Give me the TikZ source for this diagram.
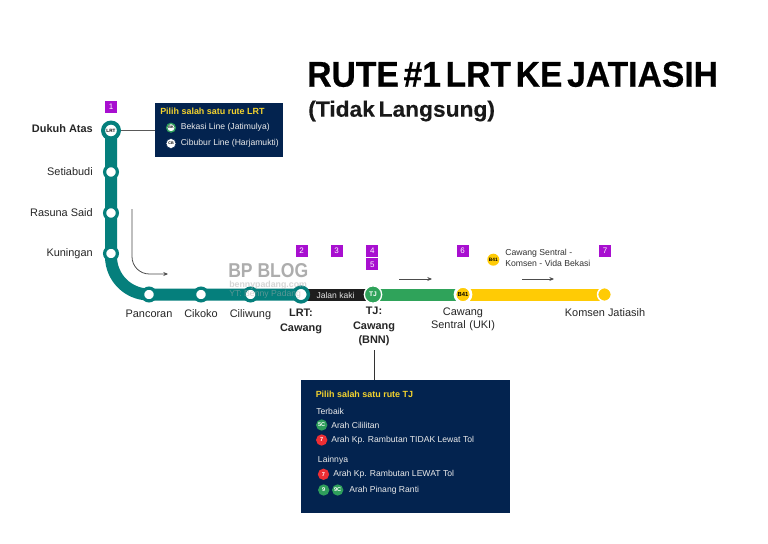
\documentclass[tikz,border=0pt]{standalone}
\usepackage{fontspec}
\setmainfont{Liberation Sans}
\newfontface\heavyf{Liberation Sans Bold}[FakeBold=0.5,WordSpace=0.5]
\newfontface\heavyg{Liberation Sans Bold}[FakeBold=0.3,WordSpace=0.6]
\usetikzlibrary{arrows.meta}
\definecolor{teal1}{HTML}{057F7C}
\definecolor{navy1}{HTML}{03234F}
\definecolor{green1}{HTML}{2FA35A}
\definecolor{yellow1}{HTML}{FFCB05}
\definecolor{purple1}{HTML}{A80FD0}
\definecolor{red1}{HTML}{EE2E34}
\definecolor{gold1}{HTML}{F2D22E}
\definecolor{green2}{HTML}{2E9E5B}
\definecolor{dark1}{HTML}{1E1E1E}
\tikzset{
  x=0.75pt,y=-0.75pt,
  lbl/.style={font=\fontsize{8.2}{10}\selectfont,text=black!85,align=center,inner sep=0pt},
  lblb/.style={lbl,font=\fontsize{8.2}{10}\selectfont\bfseries},
  tag/.style={fill=purple1,text=white,minimum size=9pt,inner sep=0pt,font=\fontsize{6}{7}\selectfont},
  stn/.style={circle,fill=white,draw=teal1,line width=2.4pt,minimum size=9.6pt,inner sep=0pt},
  wht/.style={font=\fontsize{6.45}{8}\selectfont,text=white!92!black,anchor=west,inner sep=0pt},
  gold/.style={font=\fontsize{6.7}{8}\selectfont\bfseries,text=gold1,anchor=west,inner sep=0pt},
  bdg/.style={circle,fill=#1,text=white,minimum size=8.5pt,inner sep=0pt,font=\fontsize{4.2}{5}\selectfont\bfseries},
  small/.style={font=\fontsize{6.5}{8.8}\selectfont,text=black!80,anchor=west,align=left,inner sep=0pt},
  thin/.style={draw=black!70,line width=0.6pt},
  tip/.style={-{Stealth[length=3.5pt,width=3pt]}},
  mark1/.style={font=\fontsize{#1}{#1}\selectfont,text=black!32,inner sep=0pt}
}
\begin{document}
\begin{tikzpicture}
\useasboundingbox (0,0) rectangle (768,543);
\fill[white] (0,0) rectangle (768,543);
% title
\node[anchor=base west,inner sep=0pt,font=\heavyf,text=black] (title) at (307,86.7) {\resizebox{308pt}{18.8pt}{RUTE \#1 LRT KE JATIASIH}};
\node[anchor=base west,inner sep=0pt,font=\heavyg,text=black!90] (subtitle) at (308,116.7) {\resizebox{140pt}{12pt}{(Tidak Langsung)}};
% anchors
\coordinate (a1) at (111,130.5);
\coordinate (a2) at (111,172);
\coordinate (a3) at (111,213);
\coordinate (a4) at (111,253.5);
\coordinate (b1) at (149,294.5);
\coordinate (b2) at (201,294.5);
\coordinate (b3) at (250.5,294.5);
\coordinate (b4) at (301,294.5);
\coordinate (b5) at (373,294.5);
\coordinate (b6) at (463,294.5);
\coordinate (b7) at (604.5,294.5);
% lines
\draw[teal1,line width=9pt,rounded corners=28.5pt] (a1) |- (b4);
\draw[dark1,line width=9pt] (b4) -- (b5);
\draw[green1,line width=9pt] (b5) -- (b6);
\draw[yellow1,line width=9pt] (b6) -- (b7);
% connectors to boxes
\node[fill=navy1,minimum width=95.5pt,minimum height=41pt,inner sep=0pt,anchor=north west] (lrtbox) at (155,102.5) {};
\node[fill=navy1,minimum width=156.5pt,minimum height=99.3pt,inner sep=0pt,anchor=north west] (tjbox) at (301,380) {};
\draw[black!65,line width=1.2pt] (a1) -- (lrtbox.west |- a1);
\draw[black!80,line width=0.7pt] (374,350) coordinate (tjc) -- (tjc |- tjbox.north);
% stations
\node[stn,minimum size=11.9pt,line width=3pt,font=\fontsize{3.5}{4}\selectfont\bfseries,text=black] (s1) at (a1) {LRT};
\node[stn] (s2) at (a2) {};
\node[stn] (s3) at (a3) {};
\node[stn] (s4) at (a4) {};
\node[stn] (s5) at (b1) {};
\node[stn] (s6) at (b2) {};
\node[stn] (s7) at (b3) {};
\node[stn,minimum size=11pt,line width=2.6pt] (s8) at (b4) {};
\node[circle,fill=green1,draw=white,line width=1pt,minimum size=13pt,inner sep=0pt,text=white,font=\fontsize{5}{6}\selectfont\bfseries] (s9) at (b5) {TJ};
\node[circle,fill=yellow1,draw=white,line width=2pt,minimum size=12pt,inner sep=0pt,text=black,font=\fontsize{4.4}{5}\selectfont\bfseries] (s10) at (b6) {B41};
\node[circle,fill=yellow1,draw=white,line width=1.2pt,minimum size=10.4pt,inner sep=0pt] (s11) at (b7) {};
% station labels
\node[lblb,anchor=east] (l1) at (93,129) {Dukuh Atas};
\node[lbl,anchor=east] (l2) at (93,172) {Setiabudi};
\node[lbl,anchor=east] (l3) at (93,213) {Rasuna Said};
\node[lbl,anchor=east] (l4) at (93,254) {Kuningan};
\node[lbl] (l5) at (149,314) {Pancoran};
\node[lbl] (l6) at (201,314) {Cikoko};
\node[lbl] (l7) at (250.5,314.5) {Ciliwung};
\node[lblb,text width=50pt,font=\fontsize{8.2}{11}\selectfont\bfseries,anchor=north] (l8) at (301,309) {LRT:\\Cawang};
\node[lblb,text width=50pt,font=\fontsize{8.2}{10.9}\selectfont\bfseries,anchor=north] (l9) at (374,307) {TJ:\\Cawang\\(BNN)};
\node[lbl,text width=60pt,font=\fontsize{8.2}{10}\selectfont,anchor=north] (l10) at (463,307.5) {Cawang\\Sentral (UKI)};
\node[lbl] (l11) at (605,313) {Komsen Jatiasih};
% walking
\node[font=\fontsize{6.4}{7}\selectfont,text=white!90!black,inner sep=0pt] (jk) at (335.5,295) {Jalan kaki};
% tags
\node[tag] (t1) at (111,106.7) {1};
\node[tag] (t2) at (301.5,250.7) {2};
\node[tag] (t3) at (336.7,250.7) {3};
\node[tag] (t4) at (372.3,250.5) {4};
\node[tag] (t5) at (372.3,264.3) {5};
\node[tag] (t6) at (462.7,250.7) {6};
\node[tag] (t7) at (605,250.5) {7};
% route notes
\node[circle,fill=yellow1,minimum size=9pt,inner sep=0pt,font=\fontsize{3.6}{4}\selectfont\bfseries,text=black] (b41) at (493.3,259.7) {B41};
\node[small,anchor=north west] (bt) at (505,248.5) {Cawang Sentral -\\Komsen - Vida Bekasi};
% arrows
\coordinate (ar1s) at (132,209); \coordinate (ar1e) at (168,274);
\draw[thin,tip,rounded corners=13pt] (ar1s) |- (ar1e);
\coordinate (ar2s) at (399,279); \coordinate (ar2e) at (432,279);
\draw[thin,tip] (ar2s) -- (ar2e);
\coordinate (ar3s) at (522,279); \coordinate (ar3e) at (554,279);
\draw[thin,tip] (ar3s) -- (ar3e);
% LRT box
\node[gold] (lt) at (160,111.7) {Pilih salah satu rute LRT};
\node[bdg=white,text=black,draw=green2,line width=1pt,minimum size=6.5pt,font=\fontsize{2.8}{3}\selectfont\bfseries] (lb1) at (171,127.7) {BK};
\node[wht] (lt1) at (180.5,127.7) {Bekasi Line (Jatimulya)};
\node[bdg=white,text=black,draw=navy1,minimum size=7.5pt,font=\fontsize{2.8}{3}\selectfont\bfseries] (lb2) at (171,143.5) {CB};
\node[wht] (lt2) at (180.5,143.5) {Cibubur Line (Harjamukti)};
% TJ box
\node[gold] (tt) at (315.5,394.8) {Pilih salah satu rute TJ};
\node[wht] (tt1) at (316,411.5) {Terbaik};
\node[bdg=green2] (tb1) at (321.7,425) {5C};
\node[wht] (tt2) at (331,425) {Arah Cililitan};
\node[bdg=red1] (tb2) at (321.7,440) {7};
\node[wht] (tt3) at (331,440) {Arah Kp. Rambutan TIDAK Lewat Tol};
\node[wht] (tt4) at (317.7,460.7) {Lainnya};
\node[bdg=red1] (tb3) at (323.5,474.3) {7};
\node[wht] (tt5) at (333,474.3) {Arah Kp. Rambutan LEWAT Tol};
\node[bdg=green2] (tb4) at (323.7,490) {9};
\node[bdg=green2] (tb5) at (337.7,490) {9C};
\node[wht] (tt6) at (349,490) {Arah Pinang Ranti};
% watermark
\node[mark1=15,anchor=west] (w1) at (228,270.5) {\resizebox{60pt}{10.5pt}{\bfseries BP BLOG}};
\node[mark1=6.6,opacity=.5,anchor=west] (w2) at (229,285.5) {\bfseries bennypadang.com};
\node[mark1=6.5,opacity=.5,anchor=west] (w3) at (229,294.5) {YT: Benny Padang};
\end{tikzpicture}
\end{document}
